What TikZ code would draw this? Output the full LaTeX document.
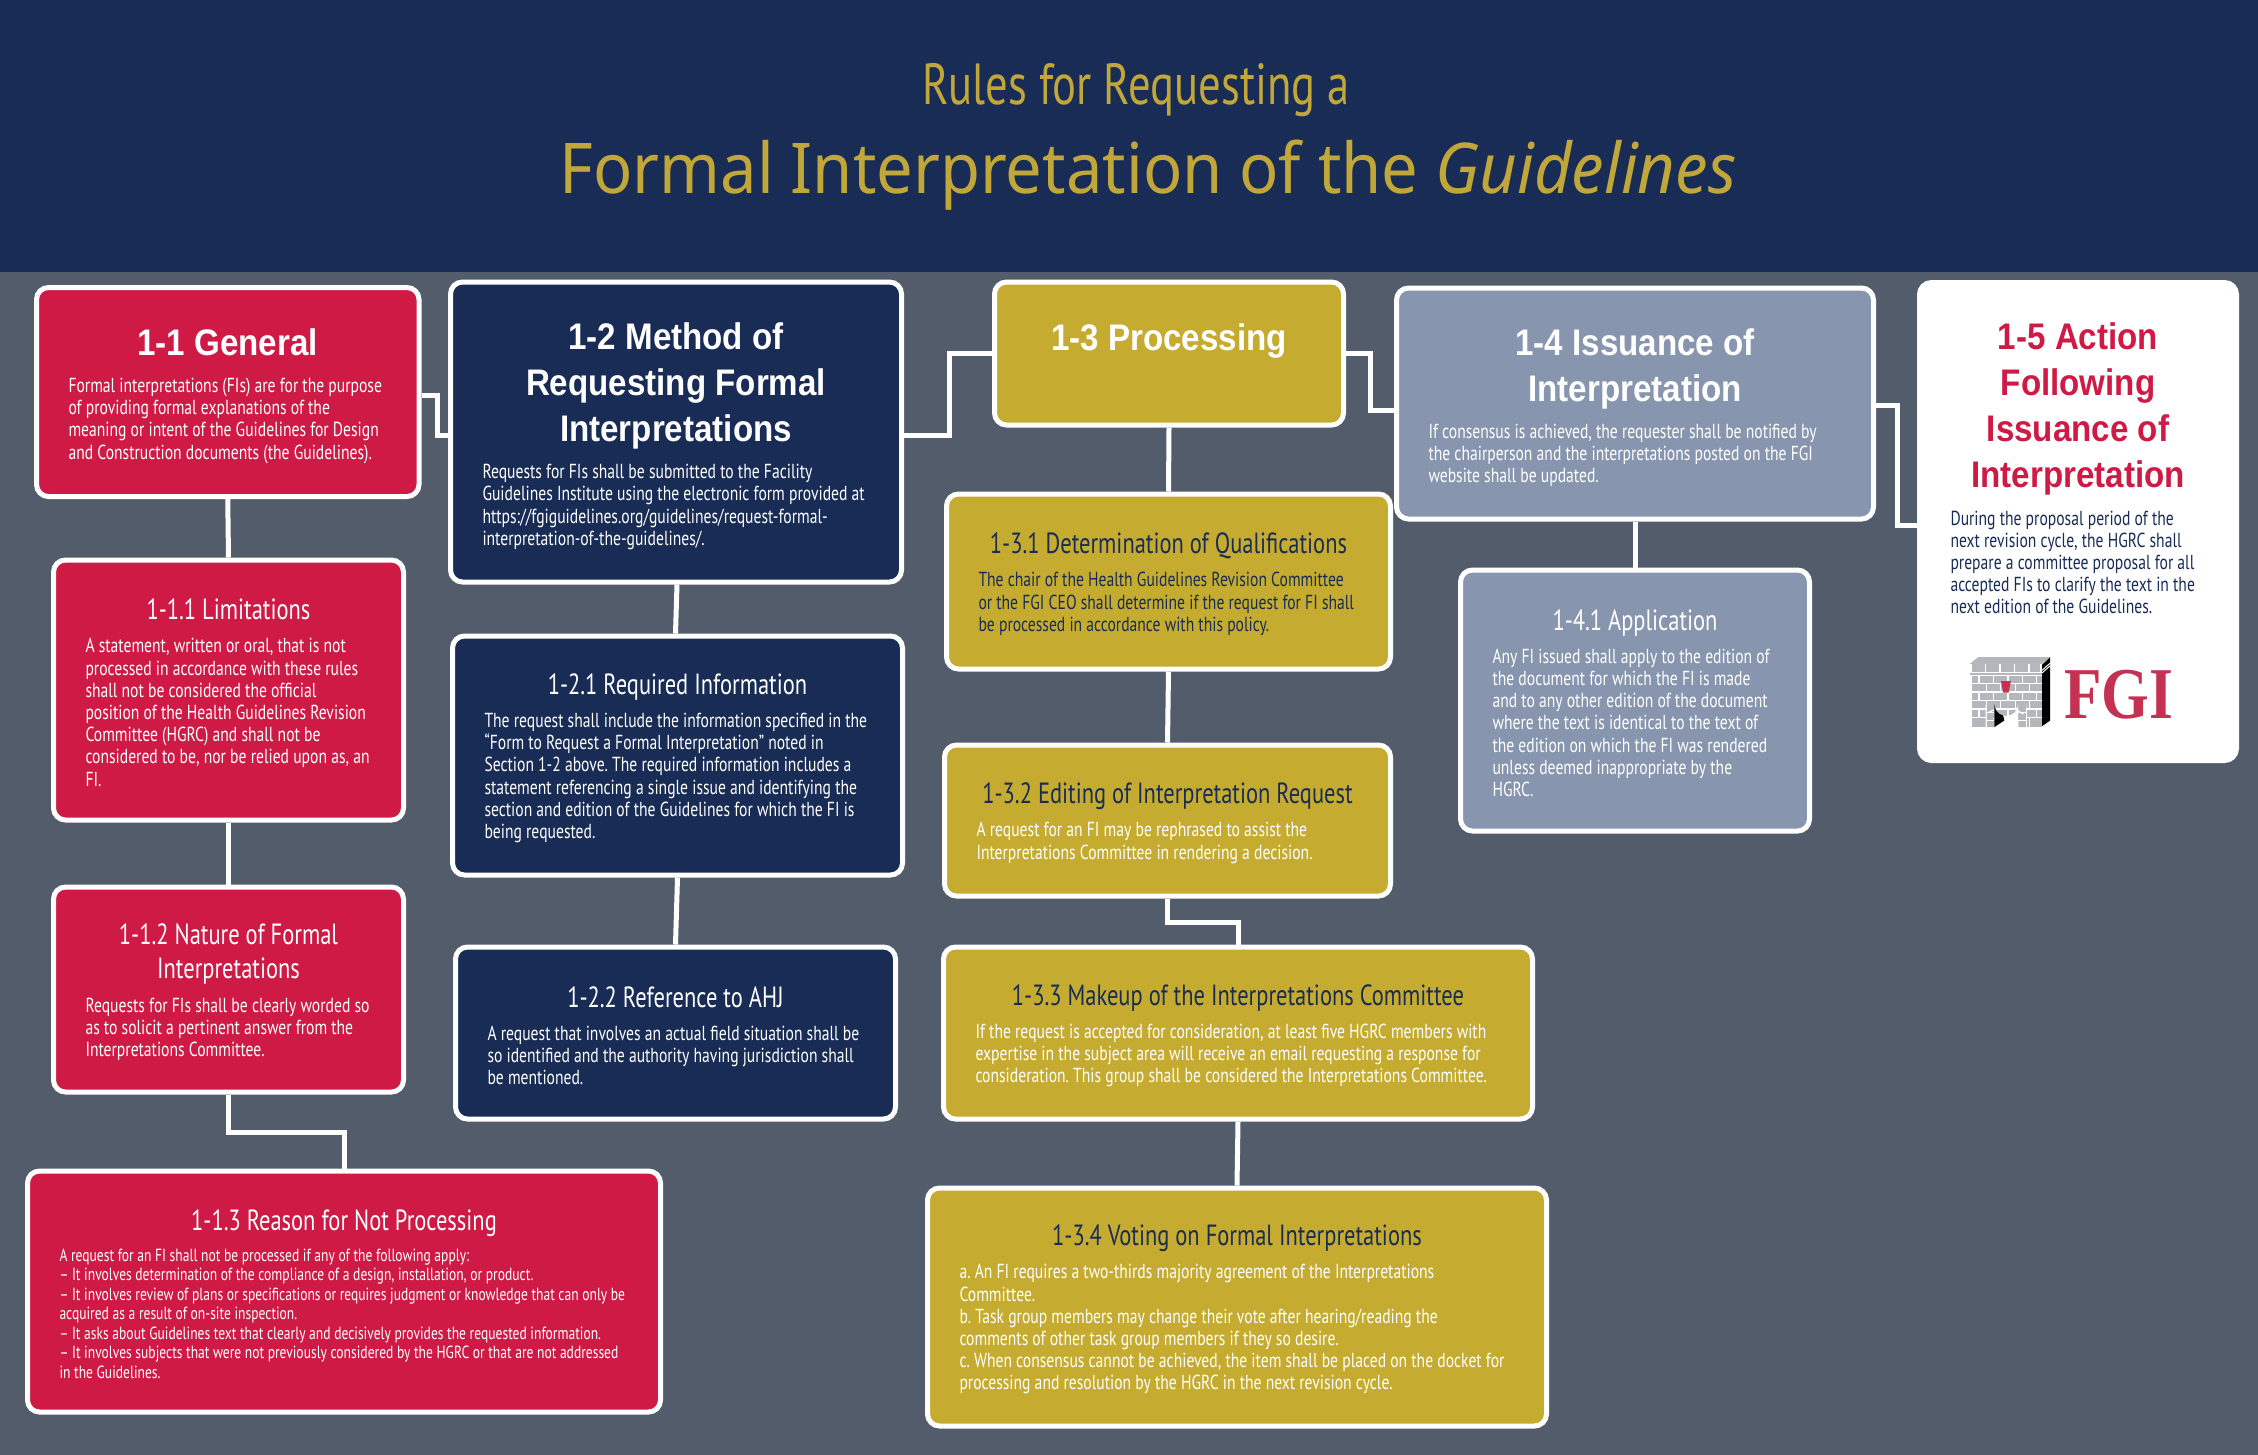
\documentclass[tikz,border=0pt]{standalone}
\usepackage{fontspec}
\setlength{\parindent}{0pt}
\frenchspacing
\newfontfamily\narrowfam[FakeStretch=.77]{PT Sans}
\newfontfamily\headfam[FakeStretch=.895]{Liberation Sans}
\newfontfamily\bannerfam[FakeStretch=.93]{Noto Sans}
\newfontfamily\logofam[FakeStretch=.84]{Liberation Serif}
\newcommand{\bodytype}{\narrowfam\fontsize{20.3}{22.2}\selectfont}
\newcommand{\mainhead}[1]{{\centering\headfam\bfseries\fontsize{37}{46}\selectfont\rule{0pt}{35pt}#1\par}\vspace{15pt}}
\newcommand{\subhead}[1]{{\centering\narrowfam\fontsize{29.2}{34.5}\selectfont\rule{0pt}{26pt}#1\par}\vspace{11pt}}
\definecolor{navyfill}{HTML}{182C55}
\definecolor{slatefill}{HTML}{525C6B}
\definecolor{redfill}{HTML}{CE1A45}
\definecolor{goldfill}{HTML}{C5AB2F}
\definecolor{greyfill}{HTML}{8796AE}
\definecolor{bannergold}{HTML}{C1A739}
\definecolor{logored}{HTML}{C53251}
\definecolor{brick}{HTML}{B4B8BC}
\tikzset{
  sect/.style={draw=white,line width=5pt,rounded corners=12pt,anchor=north west,
    inner xsep=32pt,inner ysep=0pt,align=flush left,font=\bodytype},
  redbox/.style={sect,fill=redfill,text=white},
  navybox/.style={sect,fill=navyfill,text=white},
  goldbox/.style={sect,fill=goldfill,text=white},
  greybox/.style={sect,fill=greyfill,text=white},
  whitebox/.style={sect,fill=white,text=navyfill,inner xsep=31pt},
  link/.style={draw=white,line width=5pt,line join=miter},
}
\begin{document}
\begin{tikzpicture}[x=1pt,y=-1pt]
  \useasboundingbox (0,0) rectangle (2258,1454);
  \fill[slatefill] (-3,-3) rectangle (2261,1457);
  \fill[navyfill] (-3,-3) rectangle (2261,272);
  \node[anchor=base,text=bannergold,font=\narrowfam\fontsize{58}{66}\selectfont] (rules) at (1136,104) {Rules for Requesting a};
  \node[anchor=base,text=bannergold,font=\bannerfam\fontsize{70}{80}\selectfont] (banner) at (1148,193) {Formal Interpretation of the \textit{Guidelines}};

  % first column
  \node[redbox,text width=318.5pt,minimum height=209pt] (gen) at (34,285) {\mainhead{1-1 General}
    Formal interpretations (FIs) are for the purpose\\
    of providing formal explanations of the\\
    meaning or intent of the Guidelines for Design\\
    and Construction documents (the Guidelines).};
  \node[redbox,text width=286pt,minimum height=260pt] (genlim) at (51,557.5) {\subhead{1-1.1 Limitations}
    A statement, written or oral, that is not\\
    processed in accordance with these rules\\
    shall not be considered the official\\
    position of the Health Guidelines Revision\\
    Committee (HGRC) and shall not be\\
    considered to be, nor be relied upon as, an\\
    FI.};
  \node[redbox,text width=286pt,minimum height=205pt] (gennat) at (51,884.5) {\subhead{1-1.2 Nature of Formal\\ Interpretations}
    Requests for FIs shall be clearly worded so\\
    as to solicit a pertinent answer from the\\
    Interpretations Committee.};
  \node[redbox,text width=569pt,minimum height=241pt,font=\narrowfam\fontsize{17.6}{19.5}\selectfont] (genrea) at (25,1168.5) {\subhead{1-1.3 Reason for Not Processing}
    A request for an FI shall not be processed if any of the following apply:\\
    – It involves determination of the compliance of a design, installation, or product.\\
    – It involves review of plans or specifications or requires judgment or knowledge that can only be\\
    acquired as a result of on-site inspection.\\
    – It asks about Guidelines text that clearly and decisively provides the requested information.\\
    – It involves subjects that were not previously considered by the HGRC or that are not addressed\\
    in the Guidelines.};

  % second column
  \node[navybox,text width=387pt,minimum height=300pt] (meth) at (448,279.5) {\mainhead{1-2 Method of\\ Requesting Formal\\ Interpretations}
    Requests for FIs shall be submitted to the Facility\\
    Guidelines Institute using the electronic form provided at\\
    https://fgiguidelines.org/guidelines/request-formal-\\
    interpretation-of-the-guidelines/.};
  \node[navybox,text width=386pt,minimum height=239pt] (methinf) at (450,633.5) {\subhead{1-2.1 Required Information}
    The request shall include the information specified in the\\
    “Form to Request a Formal Interpretation” noted in\\
    Section 1-2 above. The required information includes a\\
    statement referencing a single issue and identifying the\\
    section and edition of the Guidelines for which the FI is\\
    being requested.};
  \node[navybox,text width=376pt,minimum height=172pt] (methahj) at (453,944.5) {\subhead{1-2.2 Reference to AHJ}
    A request that involves an actual field situation shall be\\
    so identified and the authority having jurisdiction shall\\
    be mentioned.};

  % third column
  \node[goldbox,text width=285pt,minimum height=143pt] (proc) at (992,279.5) {\mainhead{1-3 Processing}\vspace{18pt}};
  \node[goldbox,text width=380pt,minimum height=175pt,text=navyfill] (procqual) at (944,491.5) {\subhead{1-3.1 Determination of Qualifications}
    The chair of the Health Guidelines Revision Committee\\
    or the FGI CEO shall determine if the request for FI shall\\
    be processed in accordance with this policy.};
  \node[goldbox,text width=382pt,minimum height=151pt] (procedit) at (942,742.5) {\textcolor{navyfill}{\subhead{1-3.2 Editing of Interpretation Request}}
    A request for an FI may be rephrased to assist the\\
    Interpretations Committee in rendering a decision.};
  \node[goldbox,text width=525pt,minimum height=172pt] (procmake) at (941,944.5) {\textcolor{navyfill}{\subhead{1-3.3 Makeup of the Interpretations Committee}}
    If the request is accepted for consideration, at least five HGRC members with\\
    expertise in the subject area will receive an email requesting a response for\\
    consideration. This group shall be considered the Interpretations Committee.};
  \node[goldbox,text width=555pt,minimum height=238pt] (procvote) at (925,1185.5) {\textcolor{navyfill}{\subhead{1-3.4 Voting on Formal Interpretations}}
    a. An FI requires a two-thirds majority agreement of the Interpretations\\
    Committee.\\
    b. Task group members may change their vote after hearing/reading the\\
    comments of other task group members if they so desire.\\
    c. When consensus cannot be achieved, the item shall be placed on the docket for\\
    processing and resolution by the HGRC in the next revision cycle.};

  % fourth column
  \node[greybox,text width=413pt,minimum height=231pt] (issue) at (1394,285.5) {\mainhead{1-4 Issuance of\\ Interpretation}
    If consensus is achieved, the requester shall be notified by\\
    the chairperson and the interpretations posted on the FGI\\
    website shall be updated.};
  \node[greybox,text width=285pt,minimum height=261pt] (issueapp) at (1458,567.5) {\subhead{1-4.1 Application}
    Any FI issued shall apply to the edition of\\
    the document for which the FI is made\\
    and to any other edition of the document\\
    where the text is identical to the text of\\
    the edition on which the FI was rendered\\
    unless deemed inappropriate by the\\
    HGRC.};

  % last column
  \node[whitebox,text width=255pt,minimum height=478pt] (action) at (1917,280) {\textcolor{redfill}{\mainhead{1-5 Action\\ Following\\ Issuance of\\ Interpretation}}
    During the proposal period of the\\
    next revision cycle, the HGRC shall\\
    prepare a committee proposal for all\\
    accepted FIs to clarify the text in the\\
    next edition of the Guidelines.\vspace{114pt}};

  % section links
  \draw[link] ([yshift=-3pt]gen.east) -- ++(16,0) |- ([yshift=-3pt]meth.west);
  \draw[link] ([yshift=-3pt]meth.east) -- ++(45,0) |- (proc.west);
  \draw[link] (proc.east) -- ++(24,0) |- ([yshift=-7pt]issue.west);
  \draw[link] ([yshift=-2pt]issue.east) -- ++(21,0) |- ([yshift=-4pt]action.west);
  \draw[link] (gen.south) -- (genlim.north);
  \draw[link] (genlim.south) -- (gennat.north);
  \draw[link] (gennat.south) -- ++(0,38) -| (genrea.north);
  \draw[link] ([xshift=1pt]meth.south) -- ([xshift=-2pt]methinf.north);
  \draw[link] (methinf.south) -- (methahj.north);
  \draw[link] (proc.south) -- (procqual.north);
  \draw[link] (procqual.south) -- (procedit.north);
  \draw[link] (procedit.south) -- ++(0,24) -| (procmake.north);
  \draw[link] (procmake.south) -- (procvote.north);
  \draw[link] (issue.south) -- (issueapp.north);

  % logo
  \begin{scope}[shift={(1960,650)},x=.328pt,y=-.328pt]
    \fill[brick] (30,42) -- (55,22) -- (275,22) -- (250,42) -- cycle;
    \fill[brick] (35,44) rectangle (245,68);
    \fill[brick] (30,70) rectangle (250,76);
    \fill[brick] (35,78) rectangle (250,235);
    \fill[black] (250,45) -- (275,22) -- (275,215) -- (250,232) -- cycle;
    \draw[white,line width=1pt] (250,62) -- (275,40) (250,70) -- (275,48);
    \foreach \xa in {78,122,166,210} \draw[white,line width=1.2pt] (\xa,44) -- (\xa,68);
    \foreach \ya in {102,128,154,180,206} \draw[white,line width=1.2pt] (35,\ya) -- (250,\ya);
    \foreach \xa in {58,102,146,190,234} \draw[white,line width=1.2pt] (\xa,78) -- (\xa,102) (\xa,128) -- (\xa,154) (\xa,180) -- (\xa,206);
    \foreach \xa in {80,124,168,212} \draw[white,line width=1.2pt] (\xa,102) -- (\xa,128) (\xa,154) -- (\xa,180) (\xa,206) -- (\xa,235);
    \fill[white] (78,235) -- (78,165) arc (180:0:63 and 63) -- (204,235) -- cycle;
    \draw[brick,line width=7.5pt] (93,235) -- (93,165) arc (180:0:48 and 48) -- (189,235);
    \foreach \aa in {155,130,55,30} \draw[white,line width=1.2pt] (141,165) ++(\aa:36) -- ++(\aa:24);
    \foreach \ya in {190,215} \draw[white,line width=1.2pt] (81,\ya) -- (105,\ya) (177,\ya) -- (201,\ya);
    \fill[white] (105,235) -- (105,165) arc (180:0:36 and 36) -- (177,235) -- cycle;
    \fill[black] (105,235) -- (105,165) arc (180:105:36 and 36) -- (135,215) -- cycle;
    \fill[logored] (125,95) -- (155,95) -- (148,130) -- (132,130) -- cycle;
  \end{scope}
  \node[anchor=base west,inner sep=0pt,text=logored,font=\logofam\bfseries\fontsize{73}{80}\selectfont] (fgi) at (2064,718) {FGI};
\end{tikzpicture}
\end{document}
